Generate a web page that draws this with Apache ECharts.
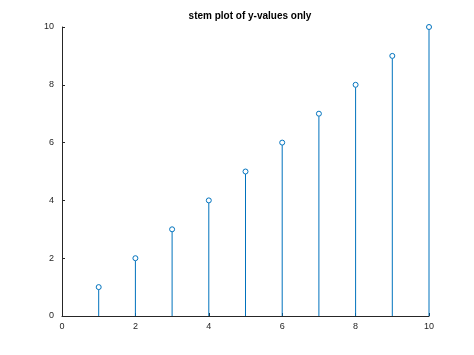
<!DOCTYPE html>
<html>
<head>
<meta charset="utf-8">
<script src="https://cdn.jsdelivr.net/npm/echarts@6/dist/echarts.min.js"></script>
<style>
html,body{margin:0;padding:0;background:#fff;}
#chart{width:474px;height:355px;}
</style>
</head>
<body>
<div id="chart"></div>
<script>
var xValues = [1, 2, 3, 4, 5, 6, 7, 8, 9, 10];
var yValues = [1, 2, 3, 4, 5, 6, 7, 8, 9, 10];
var xTicks = [0, 2, 4, 6, 8, 10];
var yTicks = [0, 2, 4, 6, 8, 10];

var stemColor = '#0072bd';
var pts = [];
for (var i = 0; i < xValues.length; i++) {
	pts.push([xValues[i], yValues[i]]);
}

var myChart = echarts.init(document.getElementById('chart'));
var axisFont = {fontFamily: 'Liberation Sans', fontSize: 9, color: '#262626'};
var option = {
	animation: false,
	title: {
		text: 'stem plot of y-values only',
		left: 245, top: 6, textAlign: 'center',
		textStyle: {fontFamily: 'Liberation Sans', fontSize: 10, fontWeight: 'bold', color: '#000'}
	},
	grid: {left: 62, right: 45, top: 27, bottom: 39},
	xAxis: {
		type: 'value', min: 0, max: 10, interval: 2,
		axisLine: {show: true, lineStyle: {color: '#262626', width: 1}},
		axisTick: {show: true, inside: true, length: 3, lineStyle: {color: '#262626'}},
		axisLabel: Object.assign({margin: 6}, axisFont),
		splitLine: {show: false}
	},
	yAxis: {
		type: 'value', min: 0, max: 10, interval: 2,
		axisLine: {show: true, lineStyle: {color: '#262626', width: 1}},
		axisTick: {show: true, inside: true, length: 3, lineStyle: {color: '#262626'}},
		axisLabel: Object.assign({margin: 8}, axisFont),
		splitLine: {show: false}
	},
	series: [
		{
			// 茎 + 顶端圆圈
			type: 'custom',
			data: pts,
			renderItem: function (params, api) {
				var top = api.coord([api.value(0), api.value(1)]);
				var base = api.coord([api.value(0), 0]);
				return {
					type: 'group',
					children: [
						{
							type: 'line',
							shape: {x1: top[0], y1: top[1] + 2.5, x2: base[0], y2: base[1]},
							style: {stroke: stemColor, lineWidth: 1}
						},
						{
							type: 'circle',
							shape: {cx: top[0], cy: top[1], r: 2.5},
							style: {stroke: stemColor, fill: '#fff', lineWidth: 1}
						}
					]
				};
			}
		}
	]
};
myChart.setOption(option);
</script>
</body>
</html>
